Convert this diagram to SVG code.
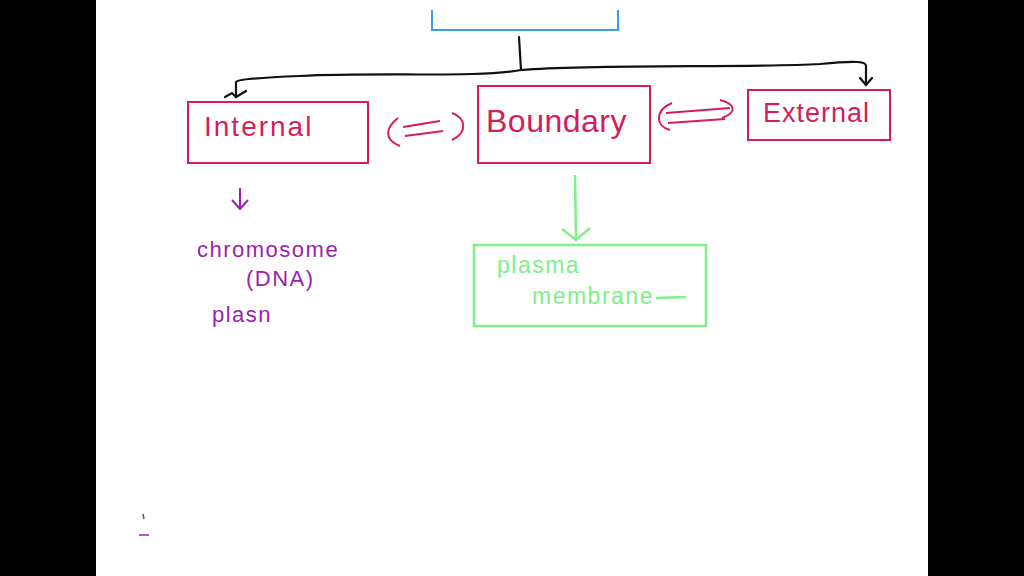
<svg xmlns="http://www.w3.org/2000/svg" width="1024" height="576" viewBox="0 0 1024 576">
<defs>
<style>
.pink{fill:none;stroke:#d81b5a;stroke-width:2}
.pt{fill:#d81b5a;font-family:"Liberation Sans",Arial,sans-serif}
.purp{fill:#9a1fb0;font-family:"Liberation Sans",Arial,sans-serif;font-size:22px;letter-spacing:1.5px}
.gr{fill:none;stroke:#7ef08a;stroke-width:2.5}
.gt{fill:#7ef08a;font-family:"Liberation Sans",Arial,sans-serif;font-size:23px;letter-spacing:1.5px}
.blk{fill:none;stroke:#111;stroke-width:2.2;stroke-linecap:round}
</style>
</defs>
<rect x="0" y="0" width="1024" height="576" fill="#000"/>
<rect x="96" y="0" width="832" height="576" fill="#fff"/>
<g id="top-bracket"><path d="M432 10 V30 H618 V10" fill="none" stroke="#3a9ee6" stroke-width="2"/></g>
<g id="connectors">
<path class="blk" d="M519 37 L521 70 C480 78 380 72 300 76 C250 78 236 80 236 82 L236 96"/>
<path class="blk" d="M225 97 L232 93 L236 97 L246 91"/>
<path class="blk" d="M521 70 C600 64 750 68 820 64 C860 60 866 62 866 66 L866 84"/>
<path class="blk" d="M860 78 L866 85 L872 78"/>
<path class="pink" d="M403 127 L440 121 M405 136 L443 131"/>
<path class="pink" d="M398 118 C385 128 384 140 400 146 M452 113 C466 118 468 132 452 140"/>
<path class="pink" d="M666 113 L730 108 M668 123 L725 119"/>
<path class="pink" d="M672 103 C655 110 655 126 670 130 M720 100 C735 104 738 112 722 118"/>
<path class="gr" d="M575 175 L576 240 M562 229 L576 240 L590 228"/>
<path d="M240 188 L240 208 M232 200 L240 209 L248 200" fill="none" stroke="#9a1fb0" stroke-width="2"/>
</g>
<g id="internal"><rect x="188" y="102" width="180" height="61" class="pink"/><text x="204" y="136" class="pt" font-size="28" letter-spacing="2">Internal</text></g>
<g id="boundary"><rect x="478" y="86" width="172" height="77" class="pink"/><text x="486" y="132" class="pt" font-size="32" letter-spacing="0.5">Boundary</text></g>
<g id="external"><rect x="748" y="90" width="142" height="50" class="pink"/><text x="763" y="122" class="pt" font-size="27" letter-spacing="1">External</text></g>
<g id="internal-list">
<text x="197" y="257" class="purp">chromosome</text>
<text x="246" y="286" class="purp">(DNA)</text>
<text x="212" y="322" class="purp">plasn</text>
</g>
<g id="plasma-membrane"><rect x="474" y="245" width="232" height="81" class="gr"/>
<text x="497" y="273" class="gt">plasma</text>
<text x="532" y="304" class="gt">membrane</text>
<path d="M656 298 L686 297" class="gr"/></g>
<g id="marks"><path d="M143 514 L144 519 M139 535 L149 535" stroke="#9a1fb0" stroke-width="1.5"/></g>
</svg>
